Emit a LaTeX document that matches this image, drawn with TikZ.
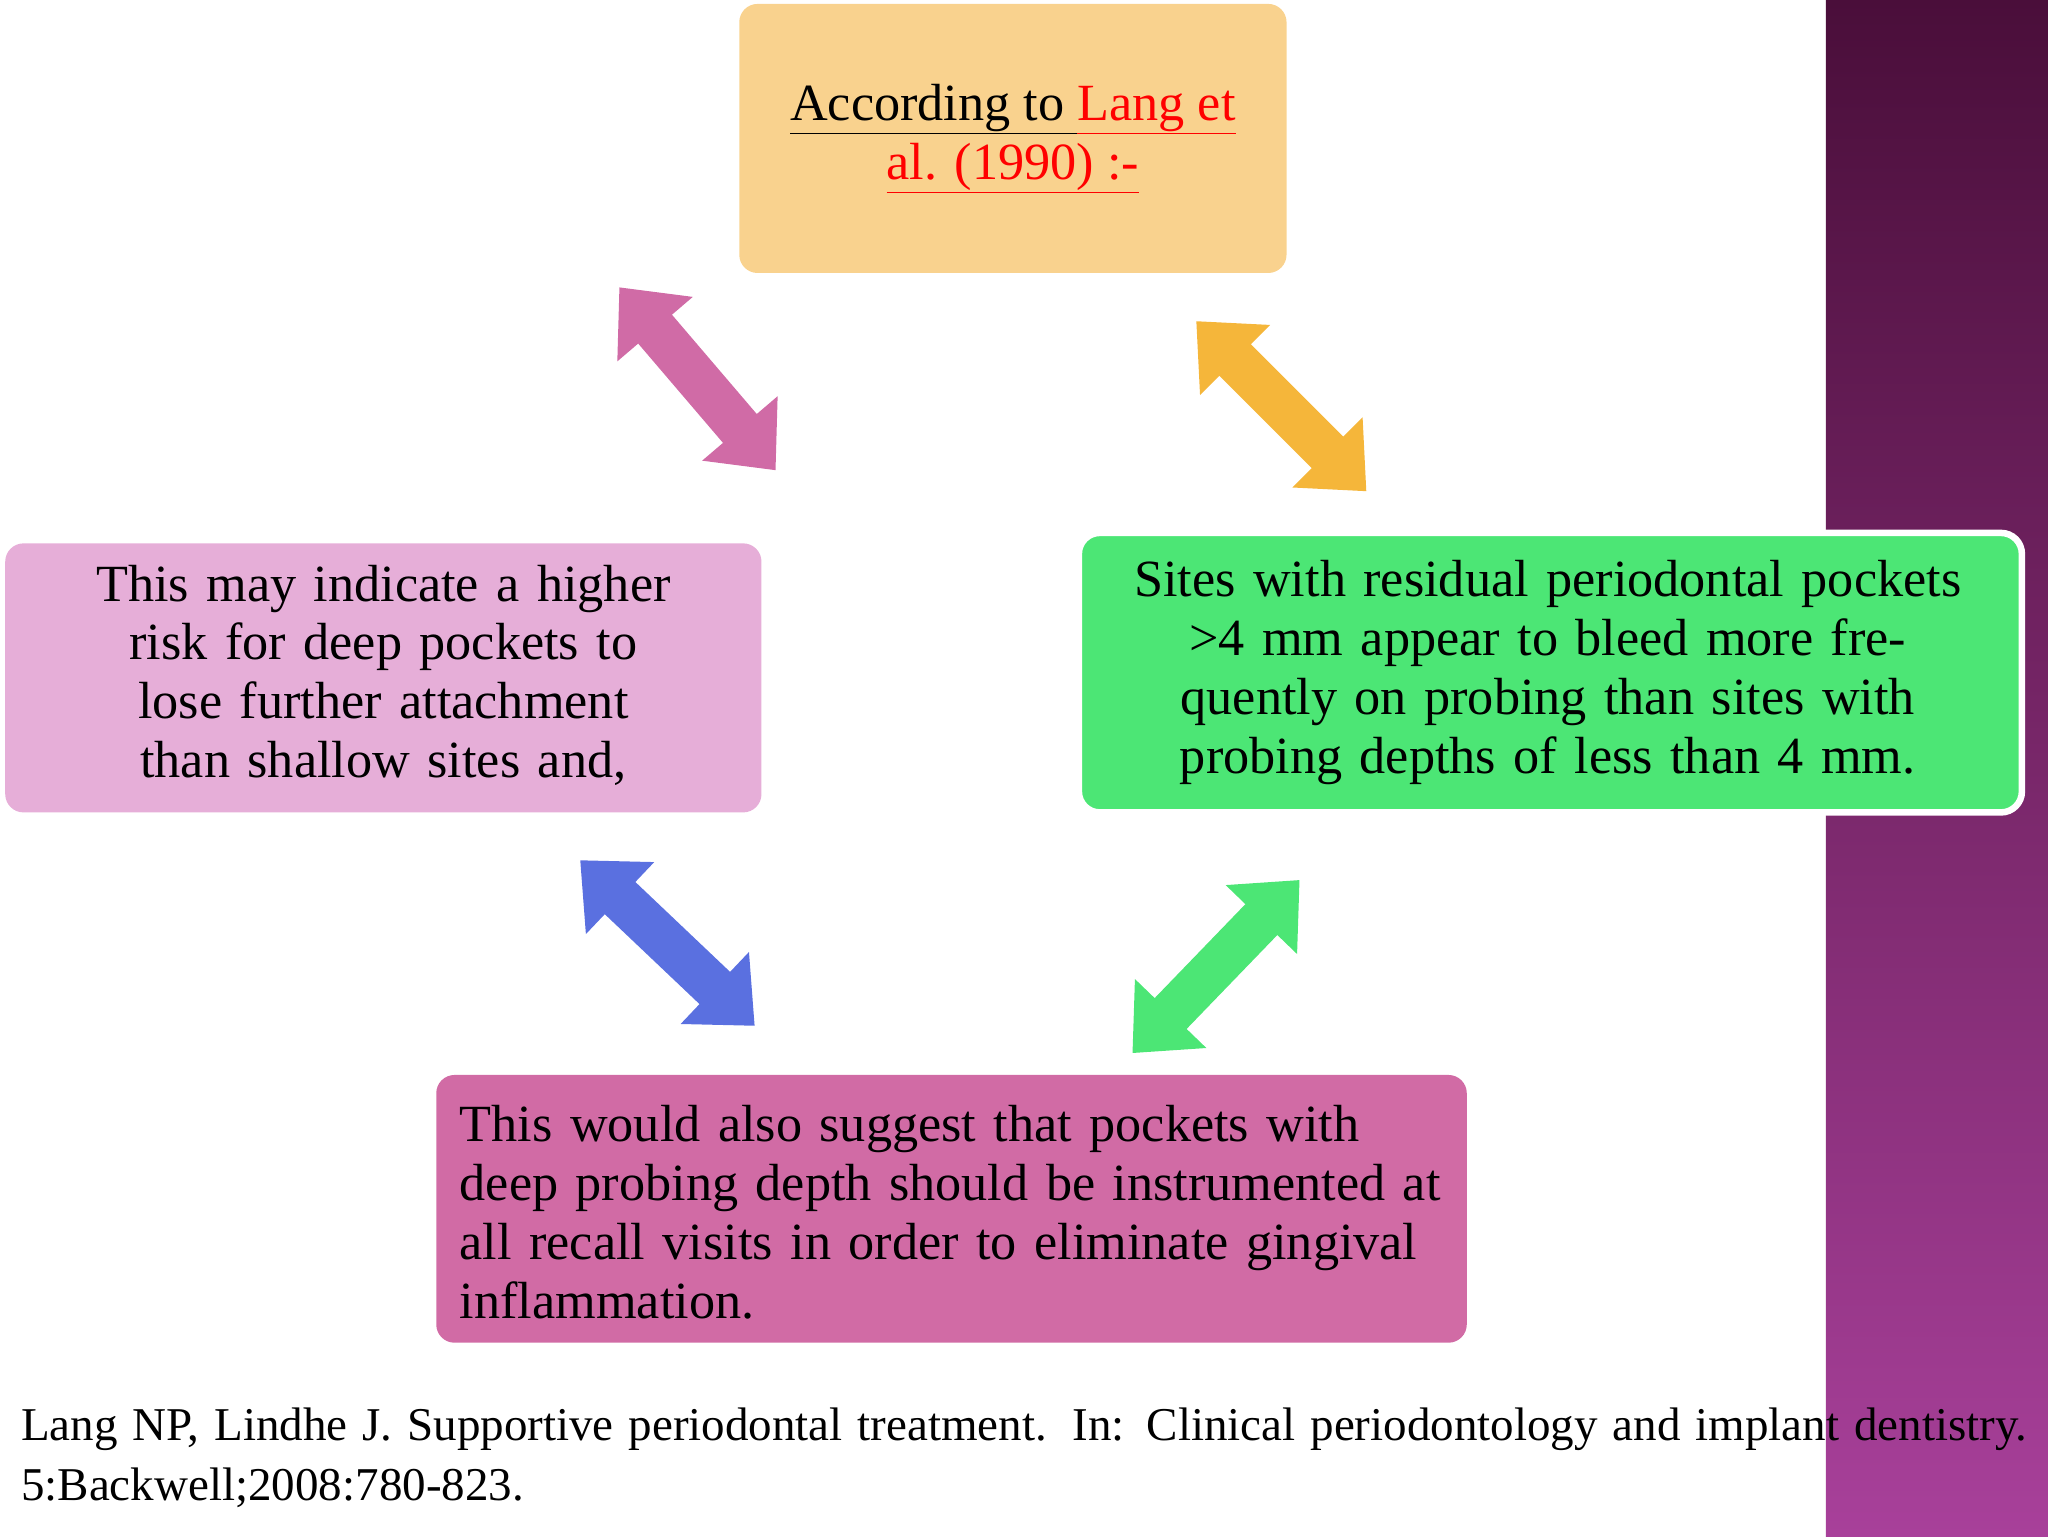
\documentclass[tikz,border=0pt]{standalone}
\usepackage{fontspec}
\setmainfont{Liberation Serif}
\definecolor{topc}{HTML}{F9D28E}
\definecolor{leftc}{HTML}{E6AED8}
\definecolor{rightc}{HTML}{4CE675}
\definecolor{botc}{HTML}{D16BA5}
\definecolor{pinka}{HTML}{D06BA6}
\definecolor{orangea}{HTML}{F5B63A}
\definecolor{bluea}{HTML}{5A70E0}
\definecolor{greena}{HTML}{4CE675}
\definecolor{band1}{HTML}{4A0E3A}
\definecolor{band2}{HTML}{A8409A}
\newcommand\dblarr[4]{%
  \begin{scope}[shift={(#1,#2)},rotate=#3]
  \fill[#4] (-92,0) -- (-50,-38) -- (-50,-17) -- (50,-17) -- (50,-38) -- (92,0) -- (50,38) -- (50,17) -- (-50,17) -- (-50,38) -- cycle;
  \end{scope}}
\tikzset{box/.style={rounded corners=14pt,inner sep=0pt,font=\fontsize{40}{45}\selectfont}}
\begin{document}
\begin{tikzpicture}[x=1pt,y=1pt]
\useasboundingbox (0,0) rectangle (1568,-1176);
\shade[top color=band1,bottom color=band2] (1398,0) rectangle (1568,-1176);
\fill[topc,rounded corners=14pt] (566,-3) rectangle (985,-209);
\node[box,align=center] (top) at (775.5,-106) {\underline{According to }\textcolor{red}{\underline{Lang et}}\\\textcolor{red}{\underline{al. (1990) :-}}};
\fill[leftc,rounded corners=14pt] (4,-416) rectangle (583,-622);
\node[box,text width=560pt,align=center] (left) at (293.5,-517) {This may indicate a higher risk for deep pockets to lose further attachment than shallow sites and,};
\filldraw[rightc,draw=white,line width=5pt,rounded corners=16pt] (826,-408) rectangle (1548,-622);
\node[box,text width=700pt,align=center] (right) at (1185,-515) {Sites with residual periodontal pockets \mbox{>4 mm} appear to bleed more frequently on probing than sites with probing depths of less than 4 mm.};
\fill[botc,rounded corners=14pt] (334,-823) rectangle (1123,-1028);
\node[box,text width=760pt,align=left] (bot) at (732,-928) {This would also suggest that pockets with deep probing depth should be instrumented at all recall visits in order to eliminate gingival inflammation.};
\dblarr{534}{-290}{130.5}{pinka}
\dblarr{981}{-311}{-45}{orangea}
\dblarr{511}{-722}{-43.5}{bluea}
\dblarr{931}{-740}{46}{greena}
\node[anchor=north west,text width=1536pt,align=justify,inner sep=0pt,font=\fontsize{36}{46}\selectfont] (ref) at (16,-1078) {Lang NP, Lindhe J. Supportive periodontal treatment. In: Clinical periodontology and implant dentistry. 5:Backwell;2008:780-823.};
\end{tikzpicture}
\end{document}
